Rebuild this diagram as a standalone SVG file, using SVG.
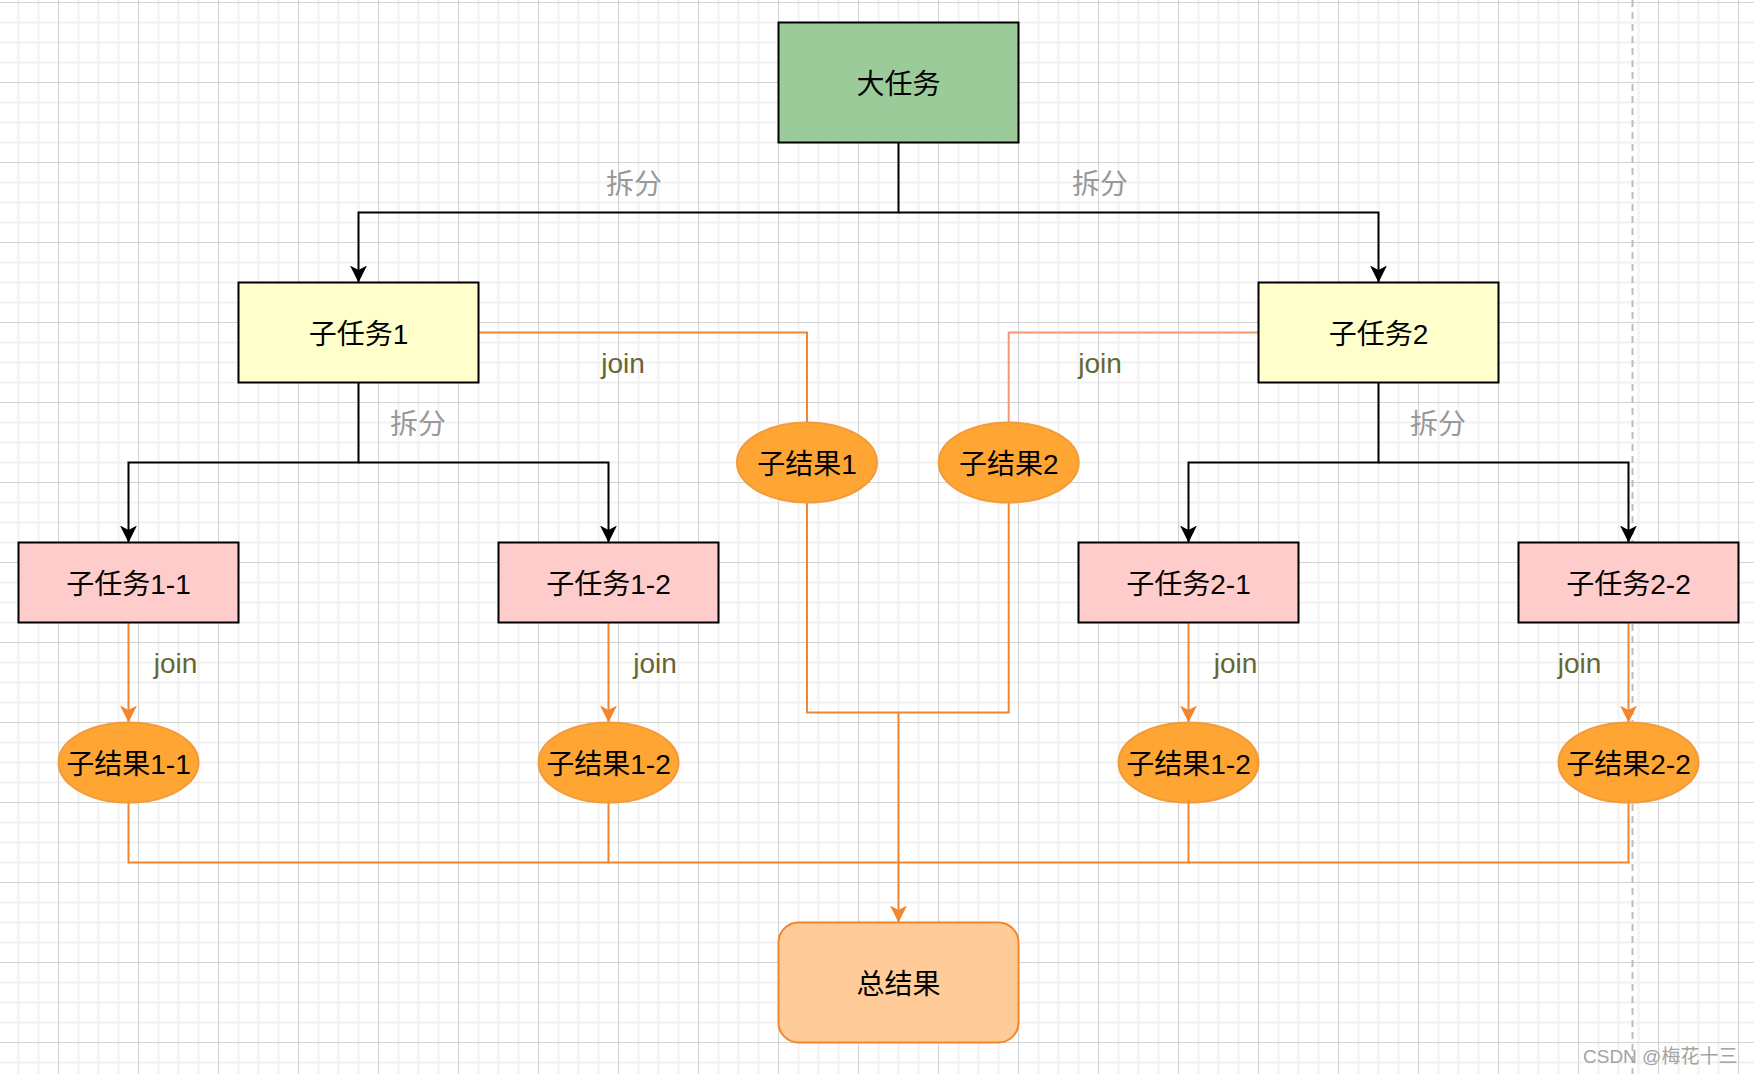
<svg xmlns="http://www.w3.org/2000/svg" width="1754" height="1074" viewBox="0 0 1754 1074">
  <defs>
    <pattern id="grid" patternUnits="userSpaceOnUse" x="58" y="2" width="80" height="80">
      <rect width="80" height="80" fill="#ffffff"/>
      <path d="M20.5 0V80M40.5 0V80M60.5 0V80M0 20.5H80M0 40.5H80M0 60.5H80" stroke="#f1f1f1" stroke-width="2" fill="none"/>
      <path d="M0.5 0V80M0 0.5H80" stroke="#d3d3d3" stroke-width="1.2" fill="none"/>
    </pattern>
    <marker id="arrBlack" markerUnits="userSpaceOnUse" markerWidth="18" markerHeight="18" refX="17" refY="8.5" orient="auto">
      <path d="M0 0 L17 8.5 L0 17 L4.5 8.5 Z" fill="#000000"/>
    </marker>
    <marker id="arrOrange" markerUnits="userSpaceOnUse" markerWidth="18" markerHeight="18" refX="17" refY="8.5" orient="auto">
      <path d="M0 0 L17 8.5 L0 17 L4.5 8.5 Z" fill="#f5852d"/>
    </marker>
  </defs>
  <style>
    .lbl { font-family: "Liberation Sans", "Noto Sans CJK SC", sans-serif; font-size: 28px; fill: #000000; text-anchor: middle; dominant-baseline: central; }
    .split { font-family: "Liberation Sans", "Noto Sans CJK SC", sans-serif; font-size: 28px; fill: #999999; text-anchor: middle; dominant-baseline: central; }
    .join { font-family: "Liberation Sans", "Noto Sans CJK SC", sans-serif; font-size: 28px; fill: #666633; text-anchor: middle; }
    .box { stroke: #000000; stroke-width: 2; }
    .ell { fill: #ffa533; stroke: #f39a3a; stroke-width: 2; }
    .blk { fill: none; stroke: #000000; stroke-width: 2; }
    .org { fill: none; stroke: #f5852d; stroke-width: 2; }
    .sal { fill: none; stroke: #f89872; stroke-width: 2; }
  </style>

  <rect x="0" y="0" width="1754" height="1074" fill="url(#grid)"/>
  <line x1="1632.5" y1="0" x2="1632.5" y2="1074" stroke="#bdbdbd" stroke-width="2" stroke-dasharray="7 5"/>

  <g id="connectors">
    <path class="blk" d="M898.5 142.5 V212.5 H358.5 V282.5" marker-end="url(#arrBlack)"/>
    <path class="blk" d="M898.5 212.5 H1378.5 V282.5" marker-end="url(#arrBlack)"/>
    <path class="blk" d="M358.5 382.5 V462.5 H128.5 V542.5" marker-end="url(#arrBlack)"/>
    <path class="blk" d="M358.5 462.5 H608.5 V542.5" marker-end="url(#arrBlack)"/>
    <path class="blk" d="M1378.5 382.5 V462.5 H1188.5 V542.5" marker-end="url(#arrBlack)"/>
    <path class="blk" d="M1378.5 462.5 H1628.5 V542.5" marker-end="url(#arrBlack)"/>

    <path class="org" d="M478.5 332.5 H807 V422.5"/>
    <path class="sal" d="M1258.5 332.5 H1008.7 V422.5"/>

    <path class="org" d="M128.5 622.5 V722.5" marker-end="url(#arrOrange)"/>
    <path class="org" d="M608.5 622.5 V722.5" marker-end="url(#arrOrange)"/>
    <path class="org" d="M1188.5 622.5 V722.5" marker-end="url(#arrOrange)"/>
    <path class="org" d="M1628.5 622.5 V722.5" marker-end="url(#arrOrange)"/>

    <path class="org" d="M807 502.5 V712.5 H1008.7 V502.5"/>
    <path class="org" d="M128.5 802.5 V862.5 H1628.5 V802.5"/>
    <path class="org" d="M608.5 802.5 V862.5"/>
    <path class="org" d="M1188.5 802.5 V862.5"/>
    <path class="org" d="M898.5 712.5 V922.5" marker-end="url(#arrOrange)"/>

    <text class="split" x="634" y="184">拆分</text>
    <text class="split" x="1100" y="184">拆分</text>
    <text class="split" x="418" y="424">拆分</text>
    <text class="split" x="1438" y="424">拆分</text>

    <text class="join" x="623" y="373">join</text>
    <text class="join" x="1100" y="373">join</text>
    <text class="join" x="175.5" y="673">join</text>
    <text class="join" x="655" y="673">join</text>
    <text class="join" x="1235.5" y="673">join</text>
    <text class="join" x="1579.5" y="673">join</text>
  </g>

  <g id="node-big">
    <rect class="box" x="778.5" y="22.5" width="240" height="120" fill="#9ccb9a"/>
    <text class="lbl" x="898.5" y="84">大任务</text>
  </g>
  <g id="node-t1">
    <rect class="box" x="238.5" y="282.5" width="240" height="100" fill="#ffffcc"/>
    <text class="lbl" x="358.5" y="334">子任务1</text>
  </g>
  <g id="node-t2">
    <rect class="box" x="1258.5" y="282.5" width="240" height="100" fill="#ffffcc"/>
    <text class="lbl" x="1378.5" y="334">子任务2</text>
  </g>
  <g id="node-t11">
    <rect class="box" x="18.5" y="542.5" width="220" height="80" fill="#ffcccc"/>
    <text class="lbl" x="128.5" y="584">子任务1-1</text>
  </g>
  <g id="node-t12">
    <rect class="box" x="498.5" y="542.5" width="220" height="80" fill="#ffcccc"/>
    <text class="lbl" x="608.5" y="584">子任务1-2</text>
  </g>
  <g id="node-t21">
    <rect class="box" x="1078.5" y="542.5" width="220" height="80" fill="#ffcccc"/>
    <text class="lbl" x="1188.5" y="584">子任务2-1</text>
  </g>
  <g id="node-t22">
    <rect class="box" x="1518.5" y="542.5" width="220" height="80" fill="#ffcccc"/>
    <text class="lbl" x="1628.5" y="584">子任务2-2</text>
  </g>
  <g id="node-r1">
    <ellipse class="ell" cx="807" cy="462.5" rx="70" ry="40"/>
    <text class="lbl" x="807" y="464">子结果1</text>
  </g>
  <g id="node-r2">
    <ellipse class="ell" cx="1008.7" cy="462.5" rx="70" ry="40"/>
    <text class="lbl" x="1008.7" y="464">子结果2</text>
  </g>
  <g id="node-r11">
    <ellipse class="ell" cx="128.5" cy="762.5" rx="70" ry="40"/>
    <text class="lbl" x="128.5" y="764">子结果1-1</text>
  </g>
  <g id="node-r12">
    <ellipse class="ell" cx="608.5" cy="762.5" rx="70" ry="40"/>
    <text class="lbl" x="608.5" y="764">子结果1-2</text>
  </g>
  <g id="node-r21">
    <ellipse class="ell" cx="1188.5" cy="762.5" rx="70" ry="40"/>
    <text class="lbl" x="1188.5" y="764">子结果1-2</text>
  </g>
  <g id="node-r22">
    <ellipse class="ell" cx="1628.5" cy="762.5" rx="70" ry="40"/>
    <text class="lbl" x="1628.5" y="764">子结果2-2</text>
  </g>
  <g id="node-total">
    <rect x="778.5" y="922.5" width="240" height="120" rx="20" ry="20" fill="#ffcc99" stroke="#f5852d" stroke-width="2"/>
    <text class="lbl" x="898.5" y="984">总结果</text>
  </g>

  <text x="1583" y="1063" font-family="'Liberation Sans', 'Noto Sans CJK SC', sans-serif" font-size="19" fill="#a3a3a3">CSDN @梅花十三</text>
</svg>
